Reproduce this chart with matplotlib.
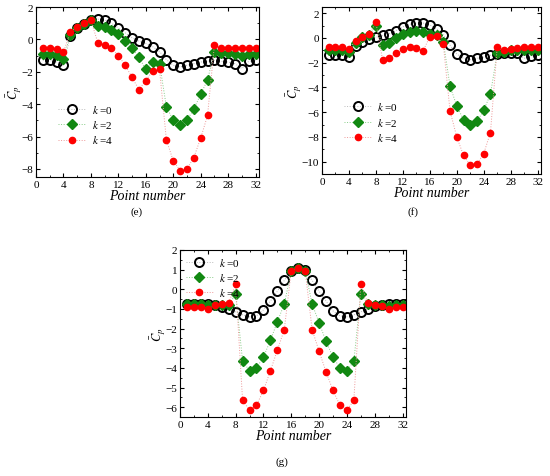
import matplotlib
matplotlib.use("Agg")
import matplotlib.pyplot as plt
import numpy as np

plt.rcParams['font.family'] = ['Liberation Serif', 'DejaVu Serif']
plt.rcParams['mathtext.fontset'] = 'stix'

points = list(range(1, 33))
e_k0 = [-1.3,-1.3,-1.4,-1.6,0.2,0.7,0.95,1.2,1.25,1.2,1.0,0.7,0.4,0.1,-0.1,-0.25,-0.45,-0.75,-1.25,-1.6,-1.7,-1.6,-1.5,-1.4,-1.35,-1.3,-1.35,-1.4,-1.5,-1.8,-1.35,-1.3]
e_k2 = [-0.9,-0.9,-0.95,-1.2,0.3,0.7,0.95,1.2,0.8,0.75,0.6,0.35,-0.1,-0.55,-1.1,-1.85,-1.4,-1.5,-4.15,-5.0,-5.3,-5.0,-4.3,-3.4,-2.5,-0.8,-0.85,-0.85,-0.9,-1.05,-0.9,-0.9]
e_k4 = [-0.55,-0.55,-0.6,-0.8,0.45,0.75,1.0,1.2,-0.2,-0.35,-0.55,-1.0,-1.6,-2.35,-3.1,-2.55,-1.95,-1.85,-6.2,-7.5,-8.1,-8.0,-7.3,-6.1,-4.7,-0.35,-0.55,-0.55,-0.55,-0.55,-0.55,-0.55]
f_k0 = [-1.4,-1.35,-1.35,-1.55,-0.65,-0.3,-0.1,0.05,0.2,0.35,0.6,0.9,1.1,1.2,1.2,1.05,0.75,0.25,-0.6,-1.3,-1.65,-1.75,-1.65,-1.55,-1.4,-1.3,-1.25,-1.2,-1.25,-1.65,-1.45,-1.4]
f_k2 = [-1.0,-1.0,-1.0,-1.1,-0.4,0.05,0.25,0.95,-0.55,-0.4,0.0,0.3,0.5,0.55,0.45,0.3,0.2,-0.3,-3.9,-5.5,-6.6,-7.0,-6.75,-5.85,-4.55,-1.2,-1.1,-1.0,-0.95,-0.95,-0.95,-0.95]
f_k4 = [-0.75,-0.75,-0.75,-0.9,-0.25,0.1,0.3,1.25,-1.8,-1.6,-1.2,-0.9,-0.75,-0.8,-1.05,0.1,0.15,-0.5,-5.9,-8.0,-9.5,-10.3,-10.2,-9.35,-7.65,-0.75,-1.0,-0.9,-0.8,-0.75,-0.75,-0.7]
g_k0 = [-0.75,-0.75,-0.75,-0.75,-0.8,-0.9,-1.0,-1.15,-1.3,-1.4,-1.35,-1.05,-0.6,-0.1,0.45,0.95,1.1,1.0,0.45,-0.1,-0.6,-1.1,-1.35,-1.4,-1.3,-1.15,-1.0,-0.85,-0.8,-0.75,-0.75,-0.75]
g_k2 = [-0.75,-0.75,-0.75,-0.8,-0.8,-0.8,-0.8,-0.25,-3.65,-4.15,-4.0,-3.45,-2.6,-1.65,-0.75,0.95,1.1,0.95,-0.75,-1.7,-2.65,-3.45,-4.0,-4.15,-3.65,-0.25,-0.75,-0.8,-0.8,-0.85,-0.8,-0.8]
g_k4 = [-0.9,-0.9,-0.9,-1.0,-0.8,-0.75,-0.7,0.25,-5.65,-6.15,-5.9,-5.15,-4.15,-3.1,-2.05,0.95,1.1,0.95,-2.05,-3.15,-4.2,-5.15,-5.9,-6.15,-5.65,0.25,-0.7,-0.8,-0.85,-1.0,-0.9,-0.9]
labels = ['$k$ =0', '$k$ =2', '$k$ =4']

W, H = 550, 477
fig = plt.figure(figsize=(W/100, H/100), dpi=100)

def make(rect, k0, k2, k4, ylim, yticks, tag, tagpos):
    l, t, r, b = rect
    ax = fig.add_axes([l/W, 1-b/H, (r-l)/W, (b-t)/H])
    ax.plot(points, k0, linestyle=':', color='#bbbbbb', lw=0.7, marker='o', mfc='none', mec='black', mew=1.4, ms=6.5, label=labels[0])
    ax.plot(points, k2, linestyle=':', color='#88cc88', lw=0.7, marker='D', mfc='#118811', mec='#118811', ms=5, label=labels[1])
    ax.plot(points, k4, linestyle=':', color='#ee9999', lw=0.7, marker='o', mfc='#ff0000', mec='#ff0000', ms=4.5, label=labels[2])
    ax.set_xlim(0, 32.5)
    ax.set_xticks(range(0, 33, 4))
    ax.set_xticks(range(0, 33, 2), minor=True)
    ax.set_yticks(yticks)
    ax.set_yticks(np.arange(yticks[0]-1, yticks[-1]+1.01, (yticks[1]-yticks[0])/2), minor=True)
    ax.set_ylim(*ylim)
    ax.tick_params(direction='in', top=True, right=True, which='both', labelsize=8, pad=2)
    ax.tick_params(which='major', length=3)
    ax.tick_params(which='minor', length=1.5)
    ax.set_xlabel('Point number', fontstyle='italic', fontsize=10, labelpad=0)
    ax.set_ylabel(r'$\bar{C}_p$', fontsize=9, labelpad=-1)
    ax.legend(frameon=False, fontsize=8, handlelength=2.5, handletextpad=0.5, labelspacing=0.3,
              loc='lower left' if tag != '(g)' else 'upper left', borderaxespad=0.6 if tag != '(g)' else 0.1,
              bbox_to_anchor=(0.05, 0.12) if tag != '(g)' else (0.0, 1.0))
    fig.text(tagpos[0]/W, 1-tagpos[1]/H, tag, ha='center', va='center', fontsize=8)
    return ax

make((36, 8, 259, 178), e_k0, e_k2, e_k4, (-8.5, 2), list(range(-8, 3, 2)), '(e)', (137, 212))
make((322, 8, 541, 175), f_k0, f_k2, f_k4, (-11, 2.5), list(range(-10, 3, 2)), '(f)', (413, 212))
make((180, 251, 406, 418), g_k0, g_k2, g_k4, (-6.5, 2), list(range(-6, 3, 1)), '(g)', (282, 462))

fig.savefig('out.png', dpi=100)
